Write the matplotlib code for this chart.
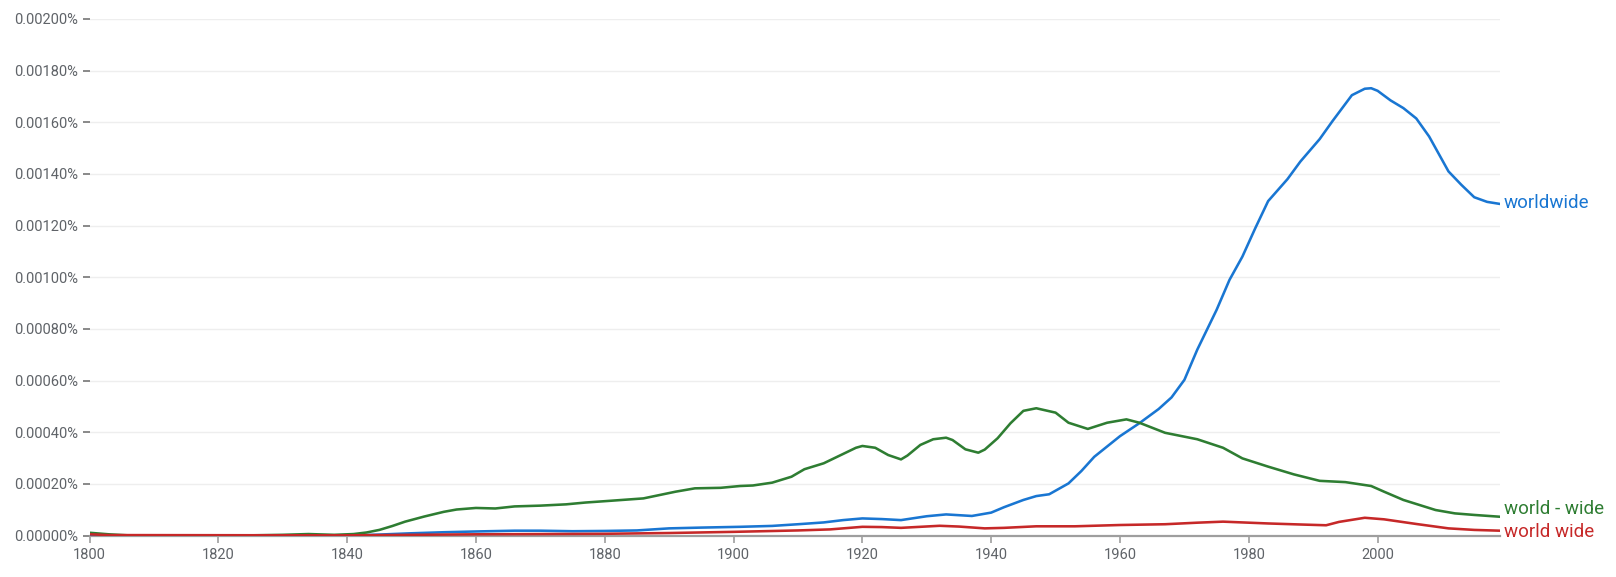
import matplotlib
matplotlib.use("Agg")
import matplotlib.pyplot as plt
from matplotlib.ticker import FuncFormatter, MultipleLocator

# ---- data (values in percent) ----
ww_years = [1800, 1840, 1845, 1850, 1855, 1860, 1866, 1870, 1875, 1880, 1885, 1890, 1895,
            1901, 1906, 1910, 1914, 1917, 1920, 1923, 1926, 1930, 1933, 1937, 1940, 1942,
            1945, 1947, 1949, 1952, 1954, 1956, 1958, 1960, 1963, 1966, 1968, 1970, 1972,
            1975, 1977, 1979, 1981, 1983, 1986, 1988, 1991, 1993, 1996, 1998, 1999, 2000,
            2002, 2004, 2006, 2008, 2011, 2013, 2015, 2017, 2019]
ww_vals = [0.0, 0.0, 0.000004, 0.000009, 0.000013, 0.000016, 0.000019, 0.000019, 0.000017,
           0.000018, 0.000020, 0.000028, 0.000031, 0.000034, 0.0000375, 0.000044, 0.000051,
           0.000060, 0.0000665, 0.000064, 0.000060, 0.000075, 0.000082, 0.000076, 0.000089,
           0.000110, 0.000138, 0.000153, 0.000160, 0.000202, 0.000250, 0.000305, 0.000345,
           0.000385, 0.000435, 0.000490, 0.000535, 0.000603, 0.000720, 0.000874, 0.000990,
           0.001080, 0.001190, 0.001295, 0.001380, 0.001448, 0.001535, 0.001605, 0.001705,
           0.001730, 0.001732, 0.001722, 0.001685, 0.001655, 0.001615, 0.001545, 0.001410,
           0.001358, 0.001310, 0.001292, 0.001284]

wdw_years = [1800, 1803, 1806, 1815, 1825, 1830, 1834, 1838, 1841, 1843, 1845, 1847, 1849,
             1852, 1855, 1857, 1860, 1863, 1866, 1870, 1874, 1877, 1881, 1886, 1891, 1894,
             1898, 1901, 1903, 1906, 1909, 1911, 1914, 1917, 1919, 1920, 1922, 1924, 1926,
             1927, 1929, 1931, 1933, 1934, 1936, 1938, 1939, 1941, 1943, 1945, 1947, 1950,
             1952, 1955, 1958, 1961, 1963, 1967, 1970, 1972, 1976, 1979, 1983, 1987, 1991,
             1995, 1999, 2001, 2004, 2009, 2012, 2015, 2019]
wdw_vals = [0.000011, 0.000005, 0.000001, 0.0000005, 0.000001, 0.000003, 0.000006, 0.000003,
            0.000006, 0.000012, 0.000022, 0.000037, 0.000054, 0.000074, 0.000092, 0.000101,
            0.000107, 0.000105, 0.000113, 0.000116, 0.000121, 0.000128, 0.000135, 0.000144,
            0.000170, 0.000183, 0.000185, 0.000192, 0.000194, 0.000205, 0.000228, 0.000257,
            0.000280, 0.000316, 0.000340, 0.000347, 0.000340, 0.000312, 0.000295, 0.000310,
            0.000351, 0.000373, 0.000379, 0.000370, 0.000334, 0.000321, 0.000333, 0.000377,
            0.000435, 0.000483, 0.000493, 0.000476, 0.000437, 0.000413, 0.000437, 0.000450,
            0.000437, 0.000398, 0.000383, 0.000373, 0.000340, 0.000299, 0.000267, 0.000237,
            0.000212, 0.000207, 0.000192, 0.000170, 0.000138, 0.000099, 0.000086, 0.000080,
            0.000073]

w_w_years = [1800, 1803, 1840, 1850, 1860, 1870, 1880, 1890, 1900, 1910, 1915, 1920, 1923,
             1926, 1932, 1935, 1939, 1942, 1947, 1953, 1960, 1967, 1972, 1976, 1983, 1988,
             1992, 1994, 1998, 2001, 2006, 2011, 2015, 2019]
w_w_vals = [0.000005, 0.000002, 0.000001, 0.000003, 0.000005, 0.000006, 0.000007, 0.000010,
            0.0000145, 0.000020, 0.000024, 0.000034, 0.000033, 0.000030, 0.000038, 0.000035,
            0.000028, 0.000030, 0.000036, 0.000036, 0.000041, 0.000044, 0.000050, 0.000054,
            0.000047, 0.000043, 0.000040, 0.000053, 0.000069, 0.000063, 0.000045, 0.000028,
            0.000022, 0.000019]

series_names = ["worldwide", "world - wide", "world wide"]
series_colors = ["#1976d2", "#2e7d32", "#c62828"]
x_ticks = [1800, 1820, 1840, 1860, 1880, 1900, 1920, 1940, 1960, 1980, 2000]

plt.rcParams['font.family'] = ['Roboto', 'DejaVu Sans']

fig = plt.figure(figsize=(16.16, 5.77), dpi=100)
ax = fig.add_axes([89.5 / 1616, (577 - 535.6) / 577, (1500 - 89.5) / 1616, (535.6 - 19) / 577])

data = [(ww_years, ww_vals), (wdw_years, wdw_vals), (w_w_years, w_w_vals)]
label_offsets = [1, 8, -1]
for (xs, ys), name, col, off in zip(data, series_names, series_colors, label_offsets):
    ax.plot(xs, ys, color=col, lw=1.85, solid_joinstyle='round', solid_capstyle='round', zorder=3)
    ax.annotate(name, xy=(xs[-1], ys[-1]), xytext=(4, off), textcoords='offset pixels',
                color=col, fontsize=13.5, va='center', ha='left', annotation_clip=False)

ax.set_xlim(1800, 2019)
ax.set_ylim(0, 0.002)
ax.set_xticks(x_ticks)
ax.yaxis.set_major_locator(MultipleLocator(0.0002))
ax.yaxis.set_major_formatter(FuncFormatter(lambda v, p: f"{v:.5f}%"))

ax.grid(axis='y', color='#eeeeee', lw=1.0, zorder=0)
ax.grid(axis='x', visible=False)
for s in ['top', 'right', 'left']:
    ax.spines[s].set_visible(False)
ax.spines['bottom'].set_color('#9e9e9e')
ax.spines['bottom'].set_linewidth(1.6)
ax.spines['bottom'].set_zorder(2)

ax.tick_params(axis='y', length=5, width=1.2, color='#757575', pad=3,
               labelsize=10.5, labelcolor='#5f6368')
ax.tick_params(axis='x', length=5, width=1.2, color='#9e9e9e', pad=4,
               labelsize=10.5, labelcolor='#5f6368')

fig.savefig("out.png", dpi=100, facecolor='white')
